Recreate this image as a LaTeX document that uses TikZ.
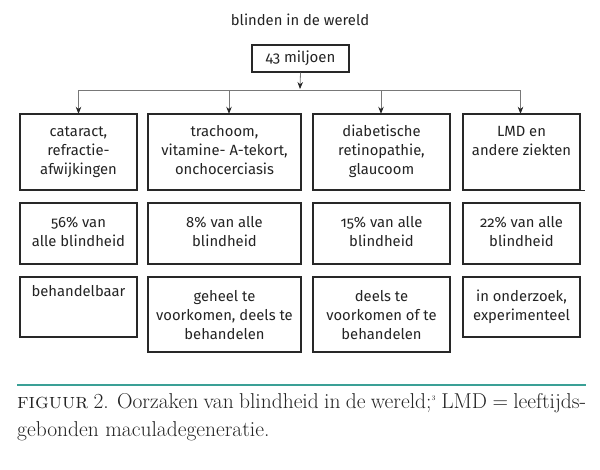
\documentclass[tikz,border=0pt]{standalone}
\usepackage{fontspec}
\usetikzlibrary{arrows.meta}
\newfontfamily\diagfont[Numbers=OldStyle]{Fira Sans}
\definecolor{txt}{RGB}{35,35,35}
\definecolor{boxline}{RGB}{40,40,40}
\definecolor{conn}{RGB}{120,120,120}
\definecolor{teal}{RGB}{58,160,150}
\tikzset{
  boxshape/.style={draw=boxline, line width=1.1pt, inner sep=0pt},
  boxtext/.style={inner sep=0pt, anchor=north, align=center, text=txt,
    font=\diagfont\fontsize{14.8}{19}\selectfont},
  conn/.style={draw=conn, line width=0.8pt},
  arr/.style={conn, -{Stealth[length=7pt,width=5.5pt,color=black!85]}},
}
\newcommand{\mybox}[5]{% name, x1, y1, x2, y2
  \path[boxshape] (#2,#3) rectangle (#4,#5);
  \node[inner sep=0pt, minimum width=#4pt-#2pt, minimum height=#5pt-#3pt] (#1) at ({(#2+#4)/2},{(#3+#5)/2}) {};
}
\begin{document}
\begin{tikzpicture}[x=1pt,y=-1pt]
\useasboundingbox (0,0) rectangle (600,470);

\node[boxtext, anchor=center] (title) at (300,20) {blinden in de wereld};
\node[boxshape, minimum width=97pt, minimum height=27pt, text=txt,
  font=\diagfont\fontsize{15}{19}\selectfont] (top) at (300.5,58.5) {43 miljoen};

% boxes
\mybox{a1}{20}{114}{137}{190}
\mybox{b1}{148}{114}{301}{190}
\mybox{c1}{313}{114}{450}{190}
\mybox{d1}{463}{114}{580}{190}
\mybox{a2}{20}{203}{137}{264}
\mybox{b2}{148}{203}{301}{264}
\mybox{c2}{313}{203}{450}{264}
\mybox{d2}{463}{203}{580}{264}
\mybox{a3}{20}{277}{137}{337}
\mybox{b3}{148}{277}{301}{352}
\mybox{c3}{313}{277}{450}{352}
\mybox{d3}{463}{277}{580}{337}
\draw[boxline, line width=1.1pt] (d1.south east) -- ++(5,0);

% connectors
\coordinate (hub) at (300,90.5);
\coordinate (h1) at (78.5,90.5);
\coordinate (h2) at (229,90.5);
\coordinate (h3) at (381,90.5);
\coordinate (h4) at (520.5,90.5);
\draw[arr] (top.south) -- ([yshift=1.5pt]hub);
\draw[conn] (h1) -- (h4);
\draw[arr] (h1) -- (h1 |- a1.north);
\draw[arr] (h2) -- (h2 |- b1.north);
\draw[arr] (h3) -- (h3 |- c1.north);
\draw[arr] (h4) -- (h4 |- d1.north);

% texts
\node[boxtext] (ta1) at ([yshift=-9pt]a1.north) {\strut cataract,\\refractie-\\afwijkingen};
\node[boxtext] (tb1) at ([yshift=-9pt]b1.north) {\strut trachoom,\\vitamine- A-tekort,\\onchocerciasis};
\node[boxtext] (tc1) at ([yshift=-9pt]c1.north) {\strut diabetische\\retinopathie,\\glaucoom};
\node[boxtext] (td1) at ([yshift=-9pt]d1.north) {\strut LMD en\\andere ziekten};
\node[boxtext] (ta2) at ([yshift=-11pt]a2.north) {\strut 56\% van\\alle blindheid};
\node[boxtext] (tb2) at ([yshift=-11pt]b2.north) {\strut 8\% van alle\\blindheid};
\node[boxtext] (tc2) at ([yshift=-11pt]c2.north) {\strut 15\% van alle\\blindheid};
\node[boxtext] (td2) at ([yshift=-11pt]d2.north) {\strut 22\% van alle\\blindheid};
\node[boxtext] (ta3) at ([yshift=-6pt]a3.north) {\strut behandelbaar};
\node[boxtext] (tb3) at ([yshift=-11pt]b3.north) {\strut geheel te\\voorkomen, deels te\\behandelen};
\node[boxtext] (tc3) at ([yshift=-11pt]c3.north) {\strut deels te\\voorkomen of te\\behandelen};
\node[boxtext] (td3) at ([yshift=-11pt]d3.north) {\strut in onderzoek,\\experimenteel};

% caption
\coordinate (rl) at (17,385);
\coordinate (rr) at (586,385);
\draw[teal, line width=1.3pt] (rl) -- (rr);
\node[inner sep=0pt, anchor=base west, text=txt, font=\fontsize{21.5}{28}\selectfont] (cap1) at (17,408)
  {\hbox to 569pt{\textsc{figuur}~2. Oorzaken van blindheid in de wereld;\textsuperscript{\scriptsize 3} LMD = leeftijds-}};
\node[inner sep=0pt, anchor=base west, text=txt, font=\fontsize{21.5}{28}\selectfont] (cap2) at (17,436)
  {gebonden maculadegeneratie.};
\end{tikzpicture}
\end{document}
